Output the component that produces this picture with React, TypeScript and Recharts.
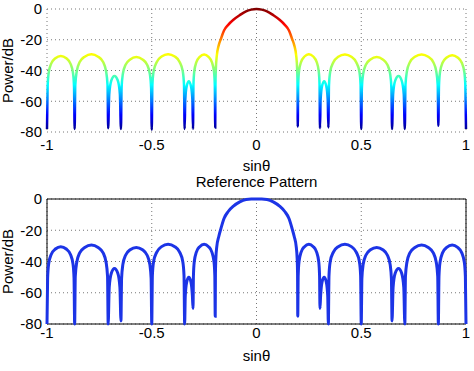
import { LineChart, Line, XAxis, YAxis, CartesianGrid, ReferenceArea } from 'recharts';

/* sinθ sample positions, one lobe per row (null first) */
const sinTheta = [
  -1, -0.997, -0.992, -0.98, -0.96, -0.934, -0.908, -0.888, -0.876, -0.871,
  -0.868, -0.865, -0.858, -0.844, -0.82, -0.788, -0.756, -0.732, -0.718, -0.711,
  -0.708, -0.703, -0.693, -0.678, -0.662, -0.652,
  -0.647, -0.644, -0.638, -0.625, -0.603, -0.574, -0.544, -0.522, -0.509, -0.503,
  -0.5, -0.497, -0.491, -0.476, -0.453, -0.422, -0.39, -0.367, -0.352, -0.346,
  -0.343, -0.34, -0.333, -0.323, -0.313, -0.306,
  -0.303, -0.301, -0.297, -0.287, -0.271, -0.25, -0.229, -0.213, -0.203, -0.199,
  -0.197, -0.196, -0.194, -0.19, -0.18, -0.17, -0.155, -0.135, -0.11, -0.08, -0.05, -0.025,
  0, 0.025, 0.05, 0.08, 0.11, 0.135, 0.155, 0.17, 0.18, 0.19, 0.194, 0.196,
  0.197, 0.199, 0.203, 0.213, 0.229, 0.25, 0.271, 0.287, 0.297, 0.301,
  0.303, 0.306, 0.313, 0.323, 0.333, 0.34,
  0.343, 0.346, 0.352, 0.367, 0.39, 0.422, 0.453, 0.476, 0.491, 0.497,
  0.5, 0.503, 0.509, 0.522, 0.544, 0.574, 0.603, 0.625, 0.638, 0.644,
  0.647, 0.652, 0.662, 0.678, 0.693, 0.703,
  0.708, 0.711, 0.718, 0.732, 0.756, 0.788, 0.82, 0.844, 0.858, 0.865,
  0.868, 0.871, 0.876, 0.888, 0.908, 0.934, 0.96, 0.98, 0.992, 0.997, 1,
];

/* upper panel (colour-coded pattern), dB */
const adaptedPower = [
  -78, -50.5, -41.5, -35.5, -32, -30.5, -32, -35.5, -41.5, -50.5,
  -78, -49.5, -40.5, -34.5, -31, -29.5, -31, -34.5, -40.5, -49.5,
  -77.5, -55.5, -46.5, -43.5, -46.5, -55.5,
  -78, -51.3, -42.3, -36.3, -32.8, -31.3, -32.8, -36.3, -42.3, -51.3,
  -78.5, -49.4, -40.4, -34.4, -30.9, -29.4, -30.9, -34.4, -40.4, -49.4,
  -78, -59, -50, -47, -50, -59,
  -78, -49.6, -40.6, -34.6, -31.1, -29.6, -31.1, -34.6, -40.6, -49.6,
  -77, -50, -39, -31, -23.5, -19.5, -14, -10.3, -7, -4, -1.5, -0.4,
  0, -0.4, -1.5, -4, -7, -10.3, -14, -19.5, -23.5, -31, -39, -50,
  -76.5, -49.4, -40.4, -34.4, -30.9, -29.4, -30.9, -34.4, -40.4, -49.4,
  -77.5, -59, -50, -47, -50, -59,
  -77, -49.6, -40.6, -34.6, -31.1, -29.6, -31.1, -34.6, -40.6, -49.6,
  -78, -51.3, -42.3, -36.3, -32.8, -31.3, -32.8, -36.3, -42.3, -51.3,
  -78, -55.6, -46.6, -43.6, -46.6, -55.6,
  -78, -49.6, -40.6, -34.6, -31.1, -29.6, -31.1, -34.6, -40.6, -49.6,
  -76, -50, -41, -35, -31.5, -30, -31.5, -35, -41, -50, -78,
];

/* lower panel: Reference Pattern, dB */
const referencePower = [
  -80, -50.5, -41.5, -35.5, -32, -30.5, -32, -35.5, -41.5, -50.5,
  -80, -49.5, -40.5, -34.5, -31, -29.5, -31, -34.5, -40.5, -49.5,
  -80, -56.5, -47.5, -44.5, -47.5, -56.5,
  -78, -51, -42, -36, -32.5, -31, -32.5, -36, -42, -51,
  -80, -49, -40, -34, -30.5, -29, -30.5, -34, -40, -49,
  -80, -62, -53, -50, -53, -62,
  -70, -49, -40, -34, -30.5, -29, -30.5, -34, -40, -49,
  -75, -48, -38, -31, -24, -19, -12.5, -8, -4.5, -1.8, -0.3, 0,
  0, 0, -0.3, -1.8, -4.5, -8, -12.5, -19, -24, -31, -38, -48,
  -75, -49, -40, -34, -30.5, -29, -30.5, -34, -40, -49,
  -70, -62, -53, -50, -53, -62,
  -80, -49, -40, -34, -30.5, -29, -30.5, -34, -40, -49,
  -80, -51, -42, -36, -32.5, -31, -32.5, -36, -42, -51,
  -78, -56.5, -47.5, -44.5, -47.5, -56.5,
  -80, -49.5, -40.5, -34.5, -31, -29.5, -31, -34.5, -40.5, -49.5,
  -80, -49.5, -40.5, -34.5, -31, -29.5, -31, -34.5, -40.5, -49.5, -80,
];

const xTicks = [-1, -0.5, 0, 0.5, 1];
const yTicks = [0, -20, -40, -60, -80];

const data = sinTheta.map((x, i) => ({ x, adapted: adaptedPower[i], ref: referencePower[i] }));

const FONT = '"Liberation Sans", Arial, sans-serif';
const FS = 15;
const tickStyle = { fontSize: FS, fill: '#000', fontFamily: FONT };
const W = 474;
const Y_AXIS_W = 47;

// top panel geometry (plot area top / height), used for the jet gradient too
const TOP_Y = 9;
const TOP_H = 123;

// matlab jet, mapped over -80..0 dB
const jetStops: [number, string][] = [
  [0, '#800000'],
  [0.123, '#ff0000'],
  [0.369, '#ffff00'],
  [0.615, '#00ffff'],
  [0.861, '#0000ff'],
  [0.984, '#00008f'],
];

function Panel({
  dataKey, height, top, bottomAxisH, tickGap, labelOffset, frame, children
}: {
  dataKey: string; height: number; top: number; bottomAxisH: number;
  tickGap: number; labelOffset: number; frame?: boolean; children?: any;
}) {
  const adapted = dataKey === 'adapted';
  return (
    <LineChart width={W} height={height} data={data} margin={{ top, right: 8, bottom: 0, left: 0 }}>
      {children}
      <CartesianGrid stroke="#777" strokeDasharray="1 3" />
      <XAxis
        dataKey="x" type="number" domain={[-1, 1]} ticks={xTicks} interval={0}
        axisLine={false} tickLine={false} tickSize={0} tickMargin={tickGap}
        height={bottomAxisH} tick={tickStyle}
        label={{ value: 'sinθ', position: 'insideBottom', offset: labelOffset, fill: '#000', fontSize: FS, fontFamily: FONT }}
      />
      <YAxis
        type="number" domain={[-80, 0]} ticks={yTicks} interval={0} width={Y_AXIS_W}
        axisLine={false} tickLine={false} tickSize={0} tickMargin={5} tick={tickStyle}
        label={{ value: 'Power/dB', angle: -90, position: 'insideLeft', offset: 8, fill: '#000', fontSize: FS, fontFamily: FONT, style: { textAnchor: 'middle' } }}
      />
      {frame && <ReferenceArea x1={-1} x2={1} y1={-80} y2={0} fill="none" stroke="#000" strokeWidth={1} />}
      <Line
        dataKey={dataKey} type="monotone" dot={false} isAnimationActive={false}
        stroke={adapted ? 'url(#jetStroke)' : '#1c34e6'}
        strokeWidth={adapted ? 2.5 : 3}
      />
    </LineChart>
  );
}

export default function App() {
  return (
    <div style={{ position: 'absolute', left: 0, top: 0, width: W, height: 371, background: '#fff', fontFamily: FONT }}>
      <Panel dataKey="adapted" height={180} top={TOP_Y} bottomAxisH={180 - TOP_Y - TOP_H} tickGap={7} labelOffset={9.5}>
        <defs>
          <linearGradient id="jetStroke" gradientUnits="userSpaceOnUse" x1="0" y1={TOP_Y} x2="0" y2={TOP_Y + TOP_H}>
            {jetStops.map(([o, c]) => <stop key={o} offset={o} stopColor={c} />)}
          </linearGradient>
        </defs>
      </Panel>
      <div style={{ position: 'absolute', left: 0, top: 173, width: W, paddingLeft: Y_AXIS_W - 8, boxSizing: 'border-box', textAlign: 'center', fontSize: FS, lineHeight: '17px', color: '#000' }}>
        Reference Pattern
      </div>
      <div style={{ position: 'absolute', left: 0, top: 185 }}>
        <Panel dataKey="ref" height={186} top={14} bottomAxisH={186 - 14 - 125} tickGap={3} labelOffset={10} frame />
      </div>
    </div>
  );
}
